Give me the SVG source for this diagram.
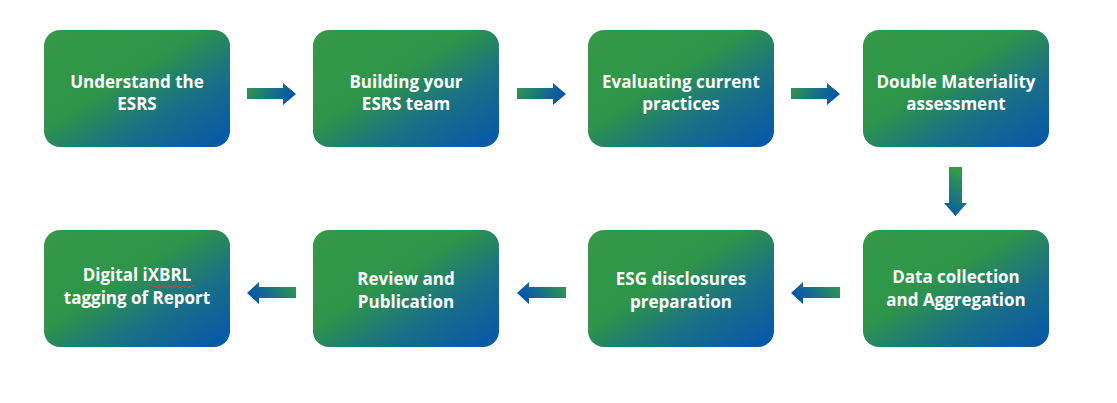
<svg xmlns="http://www.w3.org/2000/svg" width="1117" height="403" viewBox="0 0 1117 403">
<defs>
<linearGradient id="gBox" x1="0" y1="0" x2="1" y2="1">
<stop offset="0" stop-color="#349a48"/>
<stop offset="0.42" stop-color="#2e9449"/>
<stop offset="0.68" stop-color="#1a6f88"/>
<stop offset="1" stop-color="#0356ac"/>
</linearGradient>
<linearGradient id="gRight" x1="0" y1="0" x2="1" y2="0.3">
<stop offset="0" stop-color="#349a48"/>
<stop offset="1" stop-color="#0356ac"/>
</linearGradient>
<linearGradient id="gLeft" x1="1" y1="0" x2="0" y2="0.3">
<stop offset="0" stop-color="#349a48"/>
<stop offset="1" stop-color="#0356ac"/>
</linearGradient>
<linearGradient id="gDown" x1="0.3" y1="0" x2="0" y2="1">
<stop offset="0" stop-color="#349a48"/>
<stop offset="1" stop-color="#0356ac"/>
</linearGradient>
</defs>
<style>
.box{fill:url(#gBox);}
.t{font-family:"Open Sans","Liberation Sans",sans-serif;font-weight:700;font-size:17px;fill:#ffffff;text-anchor:middle;}
</style>
<rect width="1117" height="403" fill="#ffffff"/>
<g id="connectors">
<path d="M247,88 H283 V83 L296,94 L283,105 V99 H247 Z" fill="url(#gRight)"/>
<path d="M517,88 H553 V83 L566,94 L553,105 V99 H517 Z" fill="url(#gRight)"/>
<path d="M791,88 H827 V83 L840,94 L827,105 V99 H791 Z" fill="url(#gRight)"/>
<path d="M949,167 V203 H944 L955.5,216 L967,203 H962 V167 Z" fill="url(#gDown)"/>
<path d="M840,287 H803 V282 L791,293 L803,304 V298 H840 Z" fill="url(#gLeft)"/>
<path d="M566,287 H529 V282 L517,293 L529,304 V298 H566 Z" fill="url(#gLeft)"/>
<path d="M296,287 H259 V282 L247,293 L259,304 V298 H296 Z" fill="url(#gLeft)"/>
</g>
<g id="n1"><rect class="box" x="44" y="30" width="186" height="117" rx="16"/><text class="t" x="137" y="88">Understand the</text><text class="t" x="137" y="110">ESRS</text></g>
<g id="n2"><rect class="box" x="313" y="30" width="186" height="117" rx="16"/><text class="t" x="406" y="88">Building your</text><text class="t" x="406" y="110">ESRS team</text></g>
<g id="n3"><rect class="box" x="588" y="30" width="186" height="117" rx="16"/><text class="t" x="681" y="88">Evaluating current</text><text class="t" x="681" y="110">practices</text></g>
<g id="n4"><rect class="box" x="863" y="30" width="186" height="117" rx="16"/><text class="t" x="956" y="88">Double Materiality</text><text class="t" x="956" y="110">assessment</text></g>
<g id="n5"><rect class="box" x="863" y="230" width="186" height="117" rx="16"/><text class="t" x="956" y="283">Data collection</text><text class="t" x="956" y="306">and Aggregation</text></g>
<g id="n6"><rect class="box" x="588" y="230" width="186" height="117" rx="16"/><text class="t" x="681" y="285">ESG disclosures</text><text class="t" x="681" y="308">preparation</text></g>
<g id="n7"><rect class="box" x="313" y="230" width="186" height="117" rx="16"/><text class="t" x="406" y="285">Review and</text><text class="t" x="406" y="308">Publication</text></g>
<g id="n8"><rect class="box" x="44" y="230" width="186" height="117" rx="16"/><text class="t" x="137" y="281">Digital iXBRL</text><text class="t" x="137" y="304">tagging of Report</text>
<path d="M150,286.5 q2,-2 4,0 t4,0 t4,0 t4,0 t4,0 t4,0 t4,0 t4,0 t4,0 t4,0 t4,0" fill="none" stroke="#e0403a" stroke-width="1"/></g>
</svg>
